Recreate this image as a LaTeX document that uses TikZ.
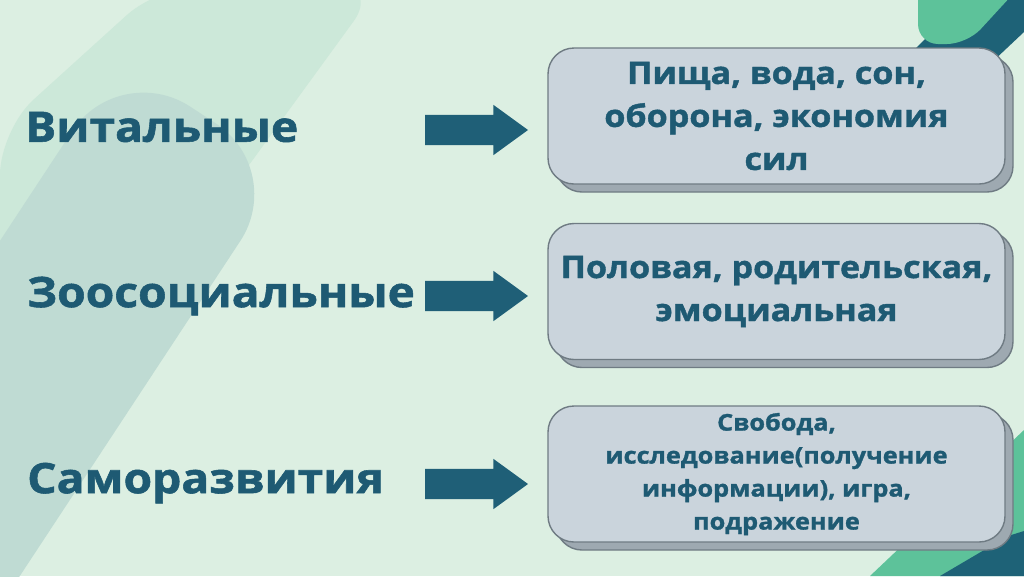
\documentclass[tikz,border=0pt]{standalone}
\usepackage{fontspec}
\setmainfont{Open Sans}[FakeStretch=1.1, BoldFeatures={FakeBold=1.3}]
\usetikzlibrary{positioning, shapes.arrows, shadows}
\definecolor{inkteal}{HTML}{1E5A73}
\definecolor{arrowteal}{HTML}{1F5F77}
\definecolor{bgmint}{HTML}{DCEFE2}
\definecolor{stripemint}{HTML}{CCE8D9}
\definecolor{pillmint}{HTML}{BFDBD3}
\definecolor{boxfill}{HTML}{CAD4DC}
\definecolor{boxline}{HTML}{6F7B83}
\definecolor{boxshade}{HTML}{9EA9B1}
\definecolor{bandteal}{HTML}{1E6277}
\definecolor{leafgreen}{HTML}{5DC29A}

\begin{document}
\begin{tikzpicture}[x=1pt, y=-1pt,
  kind/.style={anchor=west, text=inkteal, inner sep=0pt,
               font=\fontsize{42}{50}\selectfont\bfseries},
  box/.style={draw=boxline, line width=1.4pt, rounded corners=26pt, fill=boxfill,
              minimum width=457pt, minimum height=136pt, align=center,
              text=inkteal, inner sep=0pt,
              copy shadow={shadow xshift=8pt, shadow yshift=-8pt,
                           fill=boxshade, draw=boxline}},
  bigtext/.style={font=\fontsize{31}{43}\selectfont\bfseries},
  smalltext/.style={font=\fontsize{23}{33}\selectfont\bfseries},
  blockarrow/.style={single arrow, fill=arrowteal, anchor=tail, outer sep=0pt,
                     inner xsep=0pt, inner ysep=15pt, minimum height=103pt,
                     single arrow head extend=10pt, single arrow tip angle=72}
]
\useasboundingbox (0,0) rectangle (1024,576);

% background
\fill[bgmint] (0,0) rectangle (1024,576);
\fill[stripemint, rounded corners=45pt] (0,130) -- (160,-15) -- (380,-15) -- (-50,576) -- (0,576) -- cycle;
\fill[pillmint, rounded corners=85pt] (-266,645) -- (119,60) -- (287,170) -- (-98,755) -- cycle;
\fill[bandteal] (905,59) -- (965,-1) -- (1024,-1) -- (1024,32) -- (990,64) -- cycle;
\fill[leafgreen, rounded corners=20pt] (918,-30) -- (918,44) -- (967,44) -- (1035,-30) -- cycle;
\fill[leafgreen] (870,576) -- (1024,430) -- (1024,576) -- cycle;
\fill[bandteal] (940,576) -- (1008,536) -- (1024,531) -- (1024,576) -- cycle;

% left column
\node[kind] (vit) at (25,127) {Витальные};
\node[kind] (zoo) at (27,296) {Зоосоциальные};
\node[kind] (sam) at (27,483) {Саморазвития};

% right column
\node[box, bigtext] (vitbox) at (776.5,116) {Пища, вода, сон,\\оборона, экономия\\сил};
\node[box, bigtext] (zoobox) at (776.5,291.5) {Половая, родительская,\\эмоциальная};
\node[box, smalltext] (sambox) at (776.5,474) {Свобода,\\исследование(получение\\информации), игра,\\подражение};

% arrows
\node[blockarrow] (vitarr) at (425,130) {};
\node[blockarrow] (zooarr) at (425,296) {};
\node[blockarrow] (samarr) at (425,484) {};
\end{tikzpicture}
\end{document}
